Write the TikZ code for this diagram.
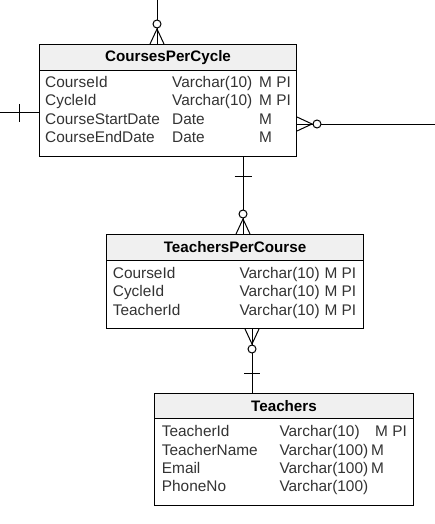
\documentclass[tikz,border=0pt]{standalone}
\usepackage{fontspec}
\setmainfont{Liberation Sans}
\usetikzlibrary{calc}
\definecolor{hdrfill}{HTML}{F0F0F0}
\definecolor{rowtext}{HTML}{333333}
\tikzset{
    header/.style={draw=black,fill=hdrfill,line width=1pt,anchor=north west,inner sep=0pt,
        minimum height=26pt,font=\fontsize{15.2}{18}\selectfont\bfseries},
    body/.style={draw=black,fill=white,line width=1pt,anchor=north west,inner sep=0pt},
    rowtxt/.style={anchor=base west,inner sep=0pt,text=rowtext,font=\fontsize{15.4}{18}\selectfont},
    conn/.style={line width=1pt},
}
\begin{document}
\begin{tikzpicture}[x=1pt,y=-1pt]
    \useasboundingbox (0,0) rectangle (435,524);
    % entities
    \node[body,minimum width=257pt,minimum height=112pt] (cpcbody) at (39,44) {};
    \node[header,minimum width=257pt] (cpc) at (39,44) {CoursesPerCycle};
    \node[body,minimum width=257pt,minimum height=94pt] (tpcbody) at (106,234) {};
    \node[header,minimum width=257pt] (tpc) at (106,234) {TeachersPerCourse};
    \node[body,minimum width=259pt,minimum height=112pt] (teabody) at (154,393) {};
    \node[header,minimum width=259pt,minimum height=25pt] (tea) at (154,393) {Teachers};
    % attribute rows
    \foreach \n/\t/\f [count=\i] in {CourseId/{Varchar(10)}/{M PI},CycleId/{Varchar(10)}/{M PI},
            CourseStartDate/Date/M,CourseEndDate/Date/M} {
        \node[rowtxt] (cpcname\i) at (45,{87.3+18.5*(\i-1)}) {\n};
        \node[rowtxt] (cpctype\i) at (172,{87.3+18.5*(\i-1)}) {\t};
        \node[rowtxt] (cpcflag\i) at (259,{87.3+18.5*(\i-1)}) {\f};
    }
    \foreach \n/\t/\f [count=\i] in {CourseId/{Varchar(10)}/{M PI},CycleId/{Varchar(10)}/{M PI},
            TeacherId/{Varchar(10)}/{M PI}} {
        \node[rowtxt] (tpcname\i) at (112.7,{278.3+18.4*(\i-1)}) {\n};
        \node[rowtxt] (tpctype\i) at (239.3,{278.3+18.4*(\i-1)}) {\t};
        \node[rowtxt] (tpcflag\i) at (324.3,{278.3+18.4*(\i-1)}) {\f};
    }
    \foreach \n/\t/\f [count=\i] in {TeacherId/{Varchar(10)}/{\hspace{4pt}M PI},TeacherName/{Varchar(100)}/M,
            Email/{Varchar(100)}/M,PhoneNo/{Varchar(100)}/{}} {
        \node[rowtxt] (teaname\i) at (161.7,{436.7+18.4*(\i-1)}) {\n};
        \node[rowtxt] (teatype\i) at (279.3,{436.7+18.4*(\i-1)}) {\t};
        \node[rowtxt] (teaflag\i) at (371,{436.7+18.4*(\i-1)}) {\f};
    }
    % top: zero or many
    \coordinate (topend) at (157,0);
    \coordinate (cpctop) at (topend |- cpc.north);
    \draw[conn] (topend) -- (cpctop);
    \draw[conn] ($(cpctop)+(-7,0)$) -- ($(cpctop)+(0,-15)$) -- ($(cpctop)+(7,0)$);
    \draw[conn,fill=white] ($(cpctop)+(0,-20)$) circle (4);
    % left: one
    \coordinate (leftend) at (0,113);
    \coordinate (cpcleft) at (cpcbody.west |- leftend);
    \draw[conn] (leftend) -- (cpcleft);
    \draw[conn] ($(leftend)+(19,-9)$) -- ($(leftend)+(19,9)$);
    % right: zero or many
    \coordinate (rightend) at (435,124);
    \coordinate (cpcright) at (cpcbody.east |- rightend);
    \draw[conn] (cpcright) -- (rightend);
    \draw[conn] ($(cpcright)+(0,-7)$) -- ($(cpcright)+(15,0)$) -- ($(cpcright)+(0,7)$);
    \draw[conn,fill=white] ($(cpcright)+(20,0)$) circle (4);
    % CoursesPerCycle -- TeachersPerCourse
    \coordinate (cpcbot) at ($(cpcbody.south west)+(204,0)$);
    \coordinate (tpctop) at (cpcbot |- tpc.north);
    \draw[conn] (cpcbot) -- (tpctop);
    \draw[conn] ($(cpcbot)+(-8.5,19)$) -- ($(cpcbot)+(8.5,19)$);
    \draw[conn] ($(tpctop)+(-7,0)$) -- ($(tpctop)+(0,-15)$) -- ($(tpctop)+(7,0)$);
    \draw[conn,fill=white] ($(tpctop)+(0,-20)$) circle (4);
    % TeachersPerCourse -- Teachers
    \coordinate (tpcbot) at ($(tpcbody.south west)+(146,0)$);
    \coordinate (teatop) at (tpcbot |- tea.north);
    \draw[conn] (tpcbot) -- (teatop);
    \draw[conn] ($(tpcbot)+(-7,0)$) -- ($(tpcbot)+(0,15)$) -- ($(tpcbot)+(7,0)$);
    \draw[conn,fill=white] ($(tpcbot)+(0,20)$) circle (4);
    \draw[conn] ($(teatop)+(-8,-20)$) -- ($(teatop)+(8,-20)$);
\end{tikzpicture}
\end{document}
